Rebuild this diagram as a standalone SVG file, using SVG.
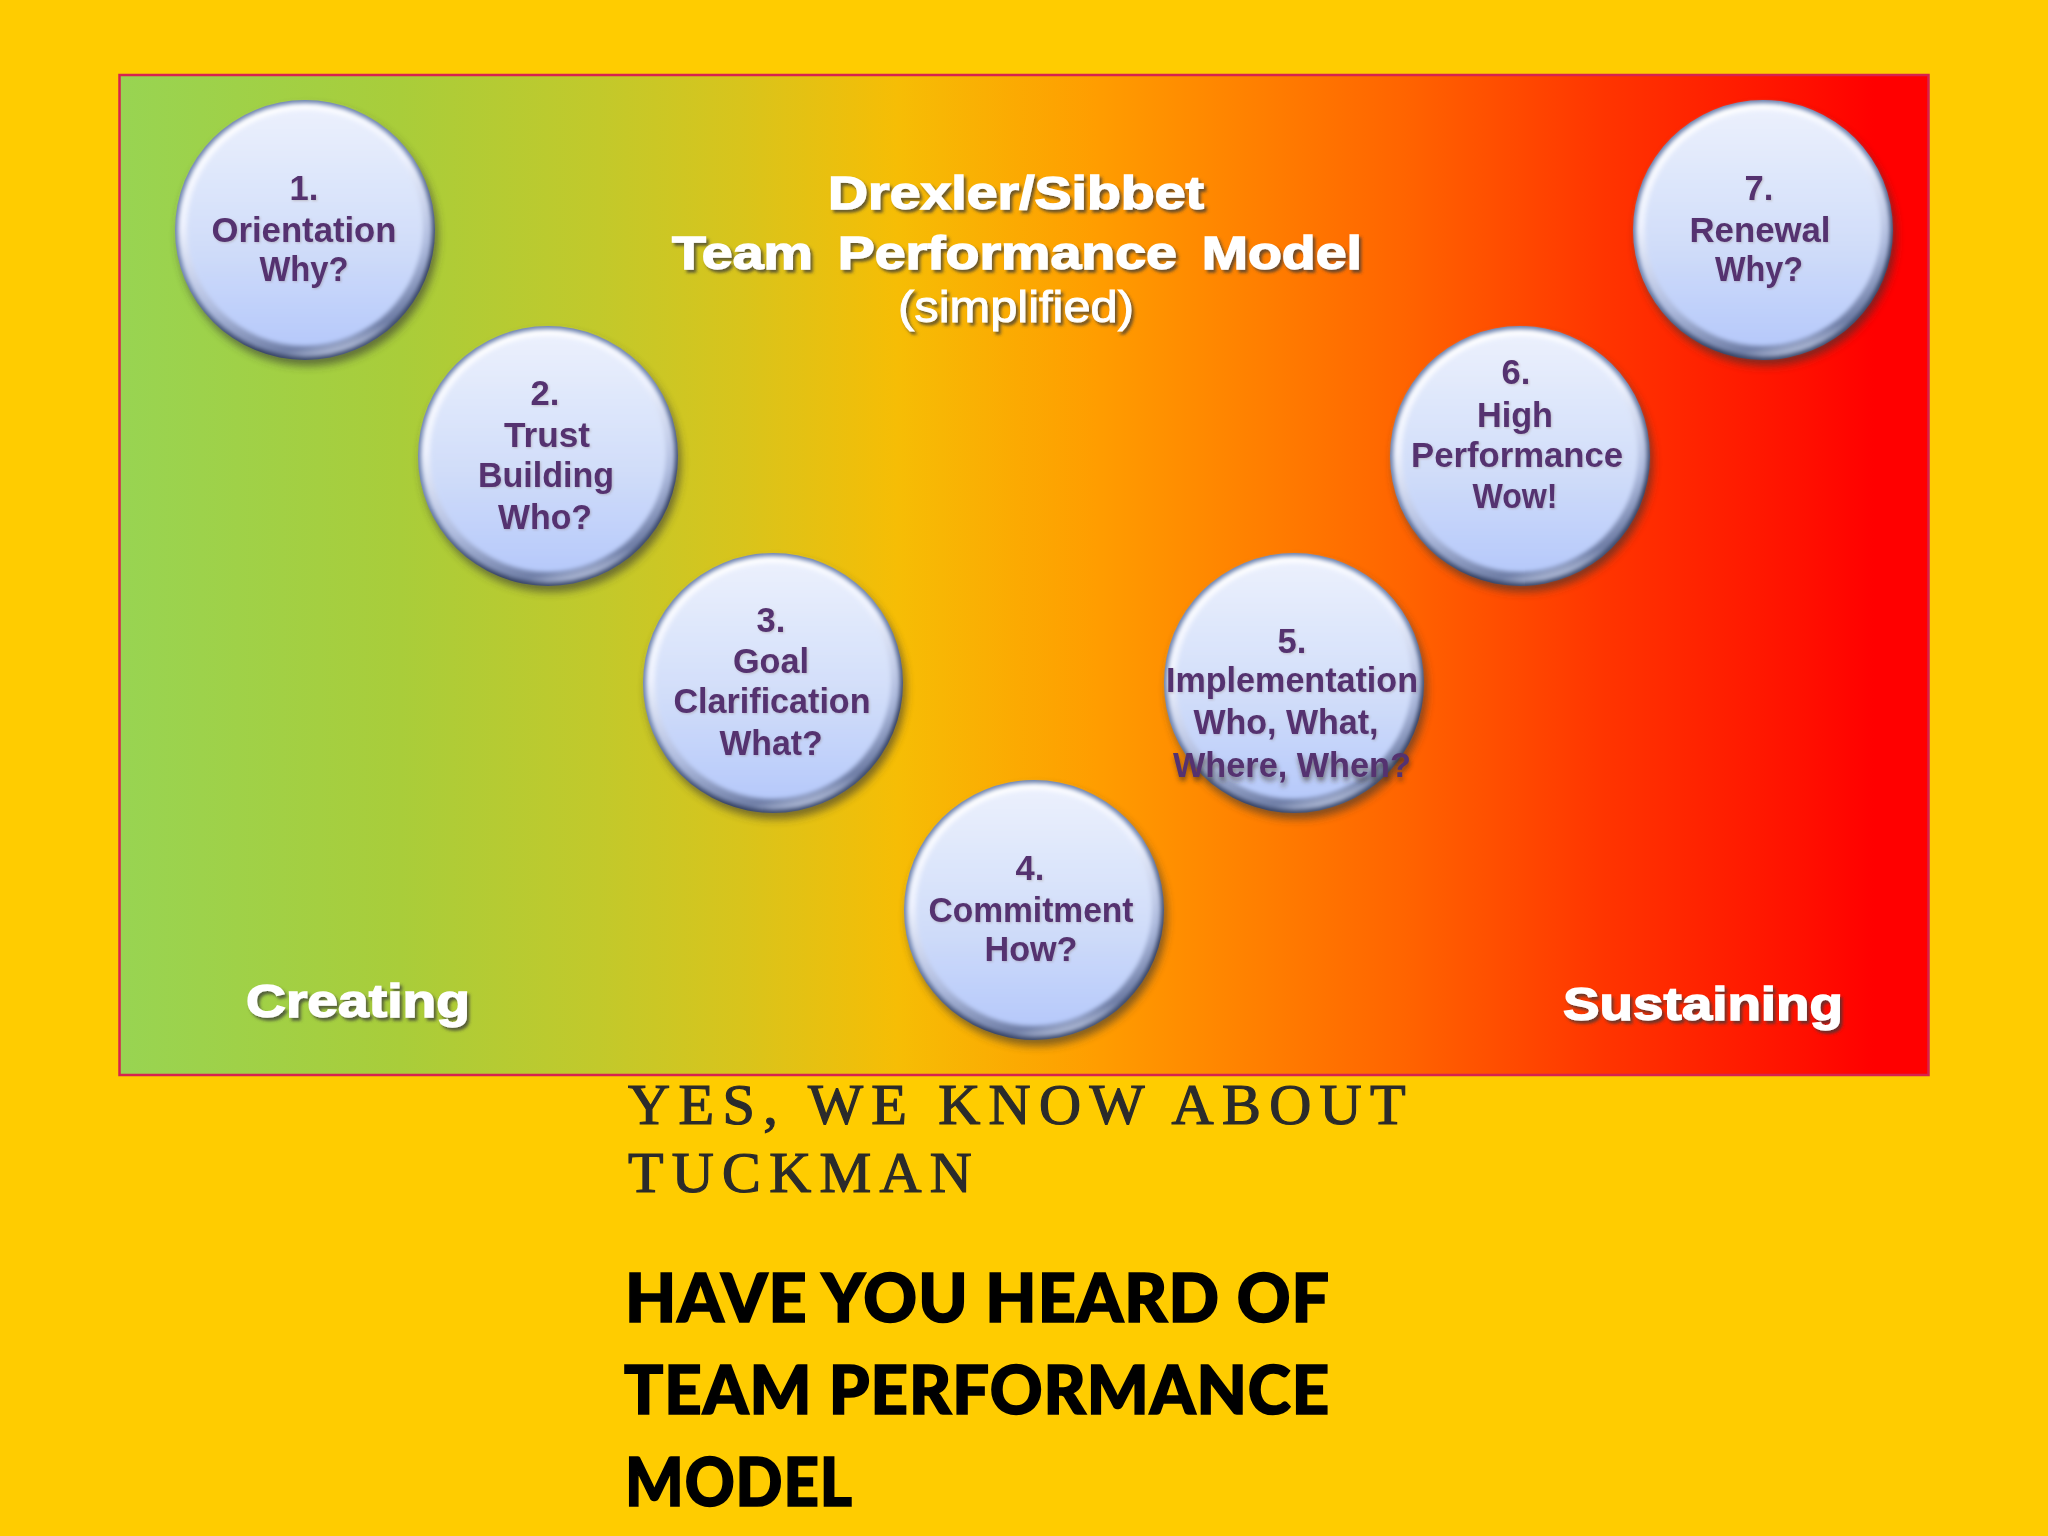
<svg xmlns="http://www.w3.org/2000/svg" width="2048" height="1536" viewBox="0 0 2048 1536">
<defs>
<linearGradient id="bg" x1="0" x2="1" y1="0" y2="0">
<stop offset="0" stop-color="#98d452"/><stop offset="0.155" stop-color="#a9cd3a"/><stop offset="0.265" stop-color="#c2c92b"/><stop offset="0.343" stop-color="#d8c41c"/><stop offset="0.43" stop-color="#f6bd05"/><stop offset="0.54" stop-color="#ff9d00"/><stop offset="0.627" stop-color="#ff8000"/><stop offset="0.71" stop-color="#ff6400"/><stop offset="0.82" stop-color="#ff3500"/><stop offset="0.93" stop-color="#ff1000"/><stop offset="0.97" stop-color="#ff0000"/>
</linearGradient>
<linearGradient id="rim" x1="0.25" x2="0.75" y1="0" y2="1"><stop offset="0" stop-color="#6a80ae"/><stop offset="0.45" stop-color="#6d82ae"/><stop offset="0.8" stop-color="#333f60"/><stop offset="1" stop-color="#445478"/></linearGradient>
<linearGradient id="bevel" x1="0.35" x2="0.65" y1="0" y2="1"><stop offset="0" stop-color="#ffffff"/><stop offset="0.35" stop-color="#eef2fe"/><stop offset="0.68" stop-color="#aebbde"/><stop offset="0.92" stop-color="#6f7ea6"/><stop offset="1" stop-color="#cfd8ef"/></linearGradient>
<linearGradient id="body" x1="0" x2="0" y1="0" y2="1"><stop offset="0" stop-color="#ebf0fd"/><stop offset="0.55" stop-color="#d2def9"/><stop offset="1" stop-color="#b6c9fa"/></linearGradient>
<filter id="soft" x="-20%" y="-20%" width="140%" height="140%"><feGaussianBlur stdDeviation="4"/></filter>
<filter id="soft2" x="-20%" y="-20%" width="140%" height="140%"><feGaussianBlur stdDeviation="2"/></filter>
<filter id="tshadow" x="-10%" y="-20%" width="125%" height="150%"><feDropShadow dx="2.5" dy="3" stdDeviation="1.5" flood-color="#3a3a3a" flood-opacity="0.75"/></filter>
<filter id="nshadow" x="-10%" y="-20%" width="125%" height="150%"><feDropShadow dx="1" dy="1" stdDeviation="1" flood-color="#6a4a30" flood-opacity="0.25"/></filter>
<filter id="dshadow" x="-10%" y="-20%" width="125%" height="150%"><feDropShadow dx="1" dy="4" stdDeviation="2.5" flood-color="#3a2a20" flood-opacity="0.6"/></filter>
<g id="ball">
<circle cx="3" cy="6" r="130" fill="#333333" opacity="0.6" filter="url(#soft)"/>
<circle r="130" fill="url(#rim)"/>
<circle r="127" cy="0" fill="url(#bevel)" filter="url(#soft2)"/>
<circle r="118" cy="-2" fill="url(#body)" filter="url(#soft2)"/>
</g>
<style>
.n{font-family:"Liberation Sans",Arial,sans-serif;font-weight:700;font-size:34.5px;fill:#54336f;text-anchor:middle;filter:url(#nshadow)}
.d{filter:url(#dshadow)}
.w{font-family:"Liberation Sans",Arial,sans-serif;font-weight:700;fill:#ffffff;stroke:#ffffff;stroke-width:1.4;text-anchor:middle;filter:url(#tshadow)}
.s{font-family:"Liberation Serif","Times New Roman",serif;font-size:56px;letter-spacing:8px;fill:#2b2b2b;stroke:#2b2b2b;stroke-width:1.2}
.h{font-family:Lato,"Liberation Sans",sans-serif;font-weight:900;font-size:67px;letter-spacing:1px;fill:#000000;stroke:#000000;stroke-width:1.6}
</style>
</defs>
<rect id="background" width="2048" height="1536" fill="#ffcc00"/>
<rect id="panel" x="119.5" y="75" width="1809" height="1000" fill="url(#bg)" stroke="#d6224f" stroke-width="2.5"/>
<g id="connectors"/>
<g id="title">
<text class="w" x="1016" y="209" font-size="47" textLength="376" lengthAdjust="spacingAndGlyphs">Drexler/Sibbet</text>
<text class="w" x="1017" y="269" font-size="47" word-spacing="8" textLength="690" lengthAdjust="spacingAndGlyphs">Team Performance Model</text>
<text class="w" x="1016" y="322" font-size="45" style="font-weight:400;stroke-width:.9" textLength="236" lengthAdjust="spacingAndGlyphs">(simplified)</text>
</g>
<g id="node1"><use href="#ball" x="305" y="230"/>
<text class="n" x="304" y="200">1.</text><text class="n" x="304" y="242" textLength="185" lengthAdjust="spacingAndGlyphs">Orientation</text><text class="n" x="304" y="281" textLength="89" lengthAdjust="spacingAndGlyphs">Why?</text></g>
<g id="node2"><use href="#ball" x="548" y="456"/>
<text class="n" x="545" y="405">2.</text><text class="n" x="547" y="447" textLength="86" lengthAdjust="spacingAndGlyphs">Trust</text><text class="n" x="546" y="487" textLength="136" lengthAdjust="spacingAndGlyphs">Building</text><text class="n" x="545" y="529" textLength="94" lengthAdjust="spacingAndGlyphs">Who?</text></g>
<g id="node3"><use href="#ball" x="773" y="683"/>
<text class="n" x="771" y="632">3.</text><text class="n" x="771" y="673" textLength="76" lengthAdjust="spacingAndGlyphs">Goal</text><text class="n" x="772" y="713" textLength="197" lengthAdjust="spacingAndGlyphs">Clarification</text><text class="n" x="771" y="755" textLength="103" lengthAdjust="spacingAndGlyphs">What?</text></g>
<g id="node5"><use href="#ball" x="1294" y="683"/>
<text class="n" x="1292" y="653">5.</text><text class="n" x="1292" y="692" textLength="252" lengthAdjust="spacingAndGlyphs">Implementation</text><text class="n" x="1286" y="734" textLength="185" lengthAdjust="spacingAndGlyphs">Who, What,</text><text class="n d" x="1292" y="777" textLength="238" lengthAdjust="spacingAndGlyphs">Where, When?</text></g>
<g id="node6"><use href="#ball" x="1520" y="456"/>
<text class="n" x="1516" y="384">6.</text><text class="n" x="1515" y="427" textLength="76" lengthAdjust="spacingAndGlyphs">High</text><text class="n" x="1517" y="467" textLength="212" lengthAdjust="spacingAndGlyphs">Performance</text><text class="n" x="1515" y="508" textLength="85" lengthAdjust="spacingAndGlyphs">Wow!</text></g>
<g id="node7"><use href="#ball" x="1763" y="230"/>
<text class="n" x="1759" y="200">7.</text><text class="n" x="1760" y="242" textLength="141" lengthAdjust="spacingAndGlyphs">Renewal</text><text class="n" x="1759" y="281" textLength="88" lengthAdjust="spacingAndGlyphs">Why?</text></g>
<g id="node4"><use href="#ball" x="1034" y="910"/>
<text class="n" x="1030" y="880">4.</text><text class="n" x="1031" y="922" textLength="205" lengthAdjust="spacingAndGlyphs">Commitment</text><text class="n" x="1031" y="961" textLength="93" lengthAdjust="spacingAndGlyphs">How?</text></g>
<g id="labels">
<text class="w" x="358" y="1017" font-size="47" textLength="224" lengthAdjust="spacingAndGlyphs">Creating</text>
<text class="w" x="1703" y="1020" font-size="47" textLength="280" lengthAdjust="spacingAndGlyphs">Sustaining</text>
</g>
<g id="caption">
<text class="s" x="628" y="1124" textLength="786" lengthAdjust="spacingAndGlyphs">YES, WE KNOW ABOUT</text>
<text class="s" x="628" y="1192" textLength="352" lengthAdjust="spacingAndGlyphs">TUCKMAN</text>
<text class="h" x="625" y="1322" textLength="705" lengthAdjust="spacingAndGlyphs">HAVE YOU HEARD OF</text>
<text class="h" x="624" y="1414" textLength="706" lengthAdjust="spacingAndGlyphs">TEAM PERFORMANCE</text>
<text class="h" x="625" y="1506" textLength="228" lengthAdjust="spacingAndGlyphs">MODEL</text>
</g>
</svg>
